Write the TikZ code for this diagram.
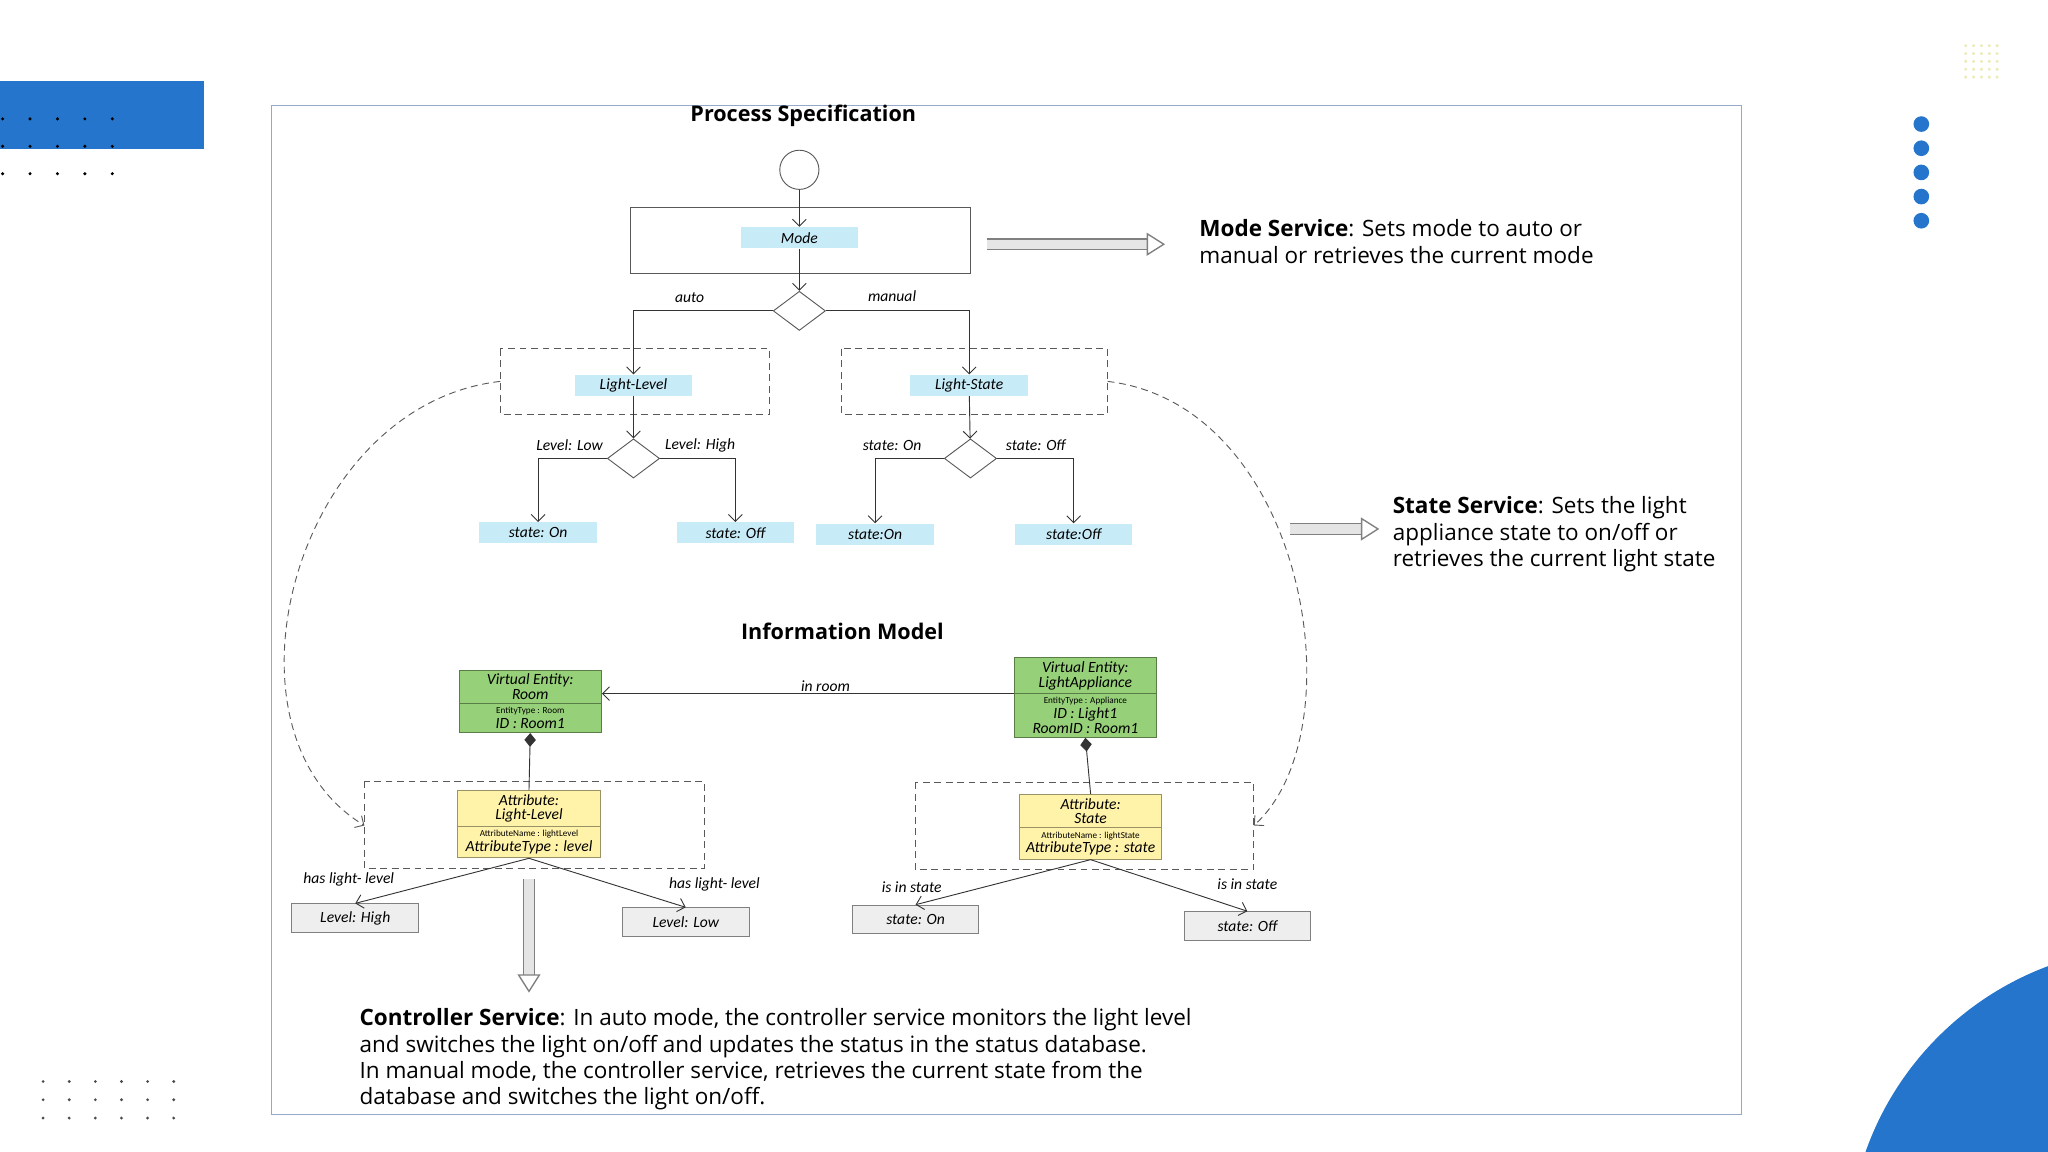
\documentclass[tikz,border=0pt]{standalone}
\usepackage{fontspec}
\setmainfont{Open Sans}
\newfontfamily\diag{Carlito}
\usetikzlibrary{shapes.geometric,shapes.multipart,arrows.meta}
\definecolor{deco}{RGB}{38,117,205}
\definecolor{frame}{RGB}{150,170,200}
\definecolor{lab}{RGB}{200,235,248}
\definecolor{vgreen}{RGB}{150,208,120}
\definecolor{vyel}{RGB}{255,243,170}
\definecolor{gbox}{RGB}{238,238,238}
\newcommand\umlbody{\diag\fontsize{4}{4.6}\selectfont\upshape}
\tikzset{
  lbl/.style={fill=lab, minimum width=1.8cm, minimum height=0.32cm, inner sep=0pt, font=\diag\fontsize{6.8}{7}\selectfont\itshape},
  state/.style={draw=gray, fill=gbox, minimum width=1.94cm, minimum height=0.44cm, inner sep=0pt, font=\diag\fontsize{6.8}{7}\selectfont\itshape},
  dbox/.style={draw=gray!70!black, dashed, dash pattern=on 3pt off 2pt},
  dec/.style={diamond, draw=gray!70!black, fill=white, minimum width=0.8cm, minimum height=0.6cm, inner sep=0pt},
  edge/.style={draw=black!80, -{Straight Barb[length=3pt]}},
  elab/.style={font=\diag\fontsize{6.8}{7}\selectfont\itshape, inner sep=1pt},
  uml/.style={rectangle split, rectangle split parts=2, draw=#1!60!black, fill=#1, inner sep=1.5pt, align=center,
    minimum width=2.18cm, font=\diag\fontsize{6.8}{6.4}\selectfont\itshape},
  hollow/.style={draw=gray, fill=gray!25, line width=0.6pt, -{Triangle[open,length=8pt,width=10pt]}, double=gray!20, double distance=4pt},
  desc/.style={anchor=north west, align=left, inner sep=0pt, font=\fontsize{9.8}{11.4}\selectfont},
  dashcurve/.style={draw=gray!70!black, dashed, dash pattern=on 3pt off 2pt, -{Straight Barb[length=3pt]}}
}
\begin{document}
\begin{tikzpicture}[x=0.02cm,y=-0.02cm]
\useasboundingbox (0,0) rectangle (1568,882);
% decorations
\fill[deco] (0,62) rectangle (156,114);
\foreach \i in {0,...,4} \foreach \j in {0,1,2} \fill[black] (2+\i*21,91+\j*21) circle (1.3);
\foreach \i in {0,...,5} \foreach \j in {0,1,2} \fill[black!70] (33+\i*20,828+\j*14) circle (1.2);
\foreach \i in {0,...,4} \foreach \j in {0,...,4} \fill[yellow!60!gray!40] (1505+\i*6,35+\j*6) circle (1.3);
\foreach \j in {0,...,4} \fill[deco] (1471,95+\j*18.5) circle (6);
\begin{scope}
\clip (0,0) rectangle (1568,882);
\fill[deco] (1650,960) circle (235);
\end{scope}
% frame
\draw[frame] (208,81) rectangle (1333,853);
\node[font=\bfseries\fontsize{9.4}{11}\selectfont] (t1) at (615,89) {Process Specification};
% process spec
\node[circle, draw=gray!70!black, minimum size=0.6cm] (start) at (612,130) {};
\draw[draw=gray!70!black] (483,159) rectangle (743,209);
\node[lbl] (mode) at (612,182) {Mode};
\node[dec] (d0) at (612,238) {};
\draw[edge] (start) -- (mode);
\draw[edge] (mode) -- (d0);
\draw[dbox] (383,267) rectangle (589,317);
\draw[dbox] (644,267) rectangle (848,317);
\node[lbl] (ll) at (485,295) {Light-Level};
\node[lbl] (ls) at (742,295) {Light-State};
\draw[edge] (d0.west) -| (ll);
\draw[edge] (d0.east) -| (ls);
\node[elab] at (528,228) {auto};
\node[elab] at (683,227) {manual};
\node[dec] (d1) at (485,351) {};
\node[dec] (d2) at (743,351) {};
\draw[edge] (ll) -- (d1);
\draw[edge] (ls) -- (d2);
\node[lbl] (s1) at (412,408) {state: On};
\node[lbl] (s2) at (563,408) {state: Off};
\node[lbl] (s3) at (670,409) {state:On};
\node[lbl] (s4) at (822,409) {state:Off};
\draw[edge] (d1.west) -| (s1);
\draw[edge] (d1.east) -| (s2);
\draw[edge] (d2.west) -| (s3);
\draw[edge] (d2.east) -| (s4);
\node[elab] at (436,341) {Level: Low};
\node[elab] at (536,341) {Level: High};
\node[elab] at (683,341) {state: On};
\node[elab] at (793,341) {state: Off};
% services
\coordinate (m1) at (756,187); \coordinate (m2) at (892,187);
\draw[hollow] (m1) -- (m2);
\node[desc] (ms) at (918,168) {\textbf{Mode Service}: Sets mode to auto or\\manual or retrieves the current mode};
\coordinate (ss1) at (988,405); \coordinate (ss2) at (1056,405);
\draw[hollow] (ss1) -- (ss2);
\node[desc] (ssv) at (1066,380) {\textbf{State Service}: Sets the light\\appliance state to on/off or\\retrieves the current light state};
% information model
\node[font=\bfseries\fontsize{9.4}{11}\selectfont] (t2) at (645,483) {Information Model};
\node[uml=vgreen] (room) at (406,537) {Virtual Entity:\\Room\nodepart{two}\umlbody EntityType : Room\\ID : Room1};
\node[uml=vgreen] (app) at (831,534) {Virtual Entity:\\LightAppliance\nodepart{two}\umlbody EntityType : Appliance\\ID : Light1\\RoomID : Room1};
\draw[edge] (app.text split west) -- (room.text split east |- app.text split west);
\node[elab] at (632,525) {in room};
\draw[dbox] (279,598) rectangle (539,665);
\draw[dbox] (701,599) rectangle (960,666);
\node[uml=vyel] (al) at (405,631) {Attribute:\\Light-Level\nodepart{two}\umlbody AttributeName : lightLevel\\AttributeType : level};
\node[uml=vyel] (as) at (835,633) {Attribute:\\State\nodepart{two}\umlbody AttributeName : lightState\\AttributeType : state};
\draw[black!80, {Diamond[length=6pt,width=5pt]}-] (room.south) -- (al.north);
\draw[black!80, {Diamond[length=6pt,width=5pt]}-] (app.south) -- (as.north);
\node[state] (lh) at (272,703) {Level: High};
\node[state] (lo) at (525,706) {Level: Low};
\node[state] (son) at (701,704) {state: On};
\node[state] (sof) at (955,709) {state: Off};
\draw[edge] (al.south) -- (lh.north);
\draw[edge] (al.south) -- (lo.north);
\draw[edge] (as.south) -- (son.north);
\draw[edge] (as.south) -- (sof.north);
\node[elab] at (267,673) {has light- level};
\node[elab] at (547,677) {has light- level};
\node[elab] at (698,679) {is in state};
\node[elab] at (955,677) {is in state};
% dashed links
\draw[dashcurve] (383,292) .. controls (225,310) and (160,560) .. (279,632);
\draw[dashcurve] (848,292) .. controls (1000,310) and (1040,560) .. (960,632);
% controller
\coordinate (c1) at (405,673); \coordinate (c2) at (405,760);
\draw[hollow] (c1) -- (c2);
\node[desc] (cs) at (275,772) {\textbf{Controller Service}: In auto mode, the controller service monitors the light level\\and switches the light on/off and updates the status in the status database.\\In manual mode, the controller service, retrieves the current state from the\\database and switches the light on/off.};
\end{tikzpicture}
\end{document}
